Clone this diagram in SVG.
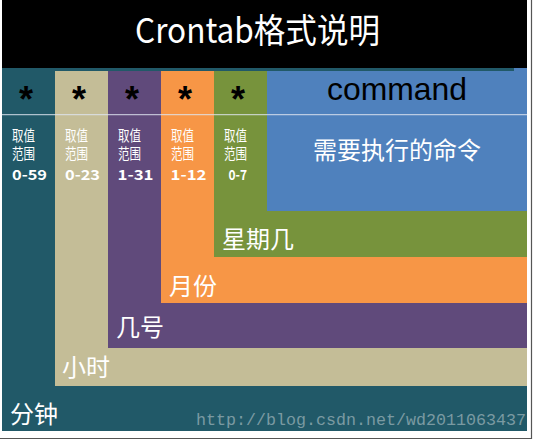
<svg xmlns="http://www.w3.org/2000/svg" width="535" height="440" viewBox="0 0 535 440">
<style>
.cjk{font-family:"Noto Sans CJK SC","Noto Sans",sans-serif;fill:#fff}
.lab{font-size:14.5px}
.num{font-size:14px;font-weight:bold}
.big{font-size:24px}
.star{font-family:"Liberation Sans",Arial,sans-serif;font-weight:bold;font-size:36px;text-anchor:middle;fill:#000}
</style>
<rect x="0" y="0" width="535" height="440" fill="#fff"/>
<line x1="531.5" y1="0" x2="531.5" y2="439" stroke="#555" stroke-width="1.2"/>
<line x1="0" y1="438.5" x2="532" y2="438.5" stroke="#555" stroke-width="1.2"/>
<g id="header">
<rect x="2" y="0" width="525" height="68" fill="#000"/>
<text class="cjk" x="135" y="43" font-size="34" textLength="245" lengthAdjust="spacingAndGlyphs">Crontab格式说明</text>
</g>
<g id="minute">
<rect x="2" y="68" width="525" height="363" fill="#215968"/>
<text class="star" x="26" y="112">*</text>
<text class="cjk lab" x="12" y="141" textLength="23" lengthAdjust="spacingAndGlyphs">取值</text>
<text class="cjk lab" x="12" y="159" textLength="23" lengthAdjust="spacingAndGlyphs">范围</text>
<text class="cjk num" x="12" y="180" textLength="35" lengthAdjust="spacingAndGlyphs">0-59</text>
<text class="cjk big" x="10" y="423">分钟</text>
</g>
<g id="hour">
<rect x="55" y="71" width="472" height="315" fill="#C4BD97"/>
<text class="star" x="79" y="112">*</text>
<text class="cjk lab" x="65" y="141" textLength="23" lengthAdjust="spacingAndGlyphs">取值</text>
<text class="cjk lab" x="65" y="159" textLength="23" lengthAdjust="spacingAndGlyphs">范围</text>
<text class="cjk num" x="65" y="180" textLength="35" lengthAdjust="spacingAndGlyphs">0-23</text>
<text class="cjk big" x="62" y="376">小时</text>
</g>
<g id="day">
<rect x="108" y="71" width="419" height="277" fill="#604A7B"/>
<text class="star" x="132" y="112">*</text>
<text class="cjk lab" x="118" y="141" textLength="23" lengthAdjust="spacingAndGlyphs">取值</text>
<text class="cjk lab" x="118" y="159" textLength="23" lengthAdjust="spacingAndGlyphs">范围</text>
<text class="cjk num" x="117.5" y="180" textLength="36" lengthAdjust="spacingAndGlyphs">1-31</text>
<text class="cjk big" x="116" y="336">几号</text>
</g>
<g id="month">
<rect x="161" y="71" width="366" height="232" fill="#F79646"/>
<text class="star" x="185" y="112">*</text>
<text class="cjk lab" x="171" y="141" textLength="23" lengthAdjust="spacingAndGlyphs">取值</text>
<text class="cjk lab" x="171" y="159" textLength="23" lengthAdjust="spacingAndGlyphs">范围</text>
<text class="cjk num" x="170.5" y="180" textLength="36" lengthAdjust="spacingAndGlyphs">1-12</text>
<text class="cjk big" x="169" y="295">月份</text>
</g>
<g id="weekday">
<rect x="214" y="71" width="313" height="186" fill="#77933C"/>
<text class="star" x="238" y="112">*</text>
<text class="cjk lab" x="224" y="141" textLength="23" lengthAdjust="spacingAndGlyphs">取值</text>
<text class="cjk lab" x="224" y="159" textLength="23" lengthAdjust="spacingAndGlyphs">范围</text>
<text class="cjk num" x="228.5" y="180" textLength="18.5" lengthAdjust="spacingAndGlyphs">0-7</text>
<text class="cjk big" x="222" y="248">星期几</text>
</g>
<g id="command">
<rect x="267" y="71" width="260" height="140" fill="#4F81BD"/>
<rect x="514" y="68" width="13" height="3" fill="#4F81BD"/>
<text x="397" y="100" font-family="Liberation Sans,Arial,sans-serif" font-size="32" text-anchor="middle" fill="#000" textLength="140" lengthAdjust="spacingAndGlyphs">command</text>
<text class="cjk big" x="397" y="159" text-anchor="middle">需要执行的命令</text>
</g>
<line x1="2" y1="114.6" x2="527" y2="114.6" stroke="#dfe6f0" stroke-opacity="0.75" stroke-width="1.3"/>
<g id="connectors"/>
<text x="196" y="425" font-family="Liberation Mono,Courier New,monospace" font-size="16.5" fill="#7a9aa2" textLength="330" lengthAdjust="spacingAndGlyphs">http://blog.csdn.net/wd2011063437</text>
</svg>
